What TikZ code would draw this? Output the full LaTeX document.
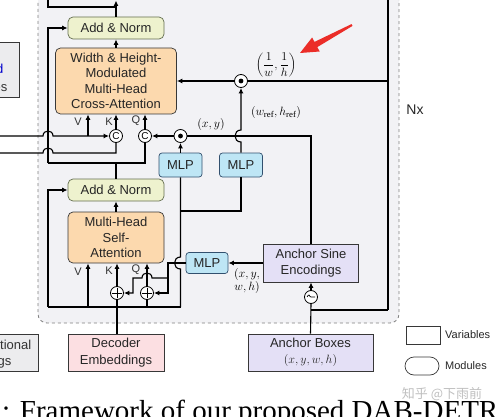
\documentclass[tikz,border=0pt]{standalone}
\usepackage{fontspec}
\setmainfont{Liberation Serif}
\setsansfont{Liberation Sans}
\newfontfamily\cjkfont{Noto Sans CJK SC}
\usetikzlibrary{arrows.meta}
\definecolor{panel}{RGB}{242,242,245}
\definecolor{anfill}{RGB}{238,242,206}
\definecolor{andraw}{RGB}{100,110,80}
\definecolor{attfill}{RGB}{252,217,174}
\definecolor{mlpfill}{RGB}{190,230,245}
\definecolor{mlpdraw}{RGB}{50,80,110}
\definecolor{lav}{RGB}{228,224,246}
\definecolor{pinkf}{RGB}{252,223,226}
\definecolor{greyf}{RGB}{236,236,238}
\definecolor{bord}{RGB}{55,55,55}
\definecolor{arrowred}{RGB}{235,45,40}
\tikzset{
 wire/.style={line width=1.1pt},
 arr/.style={wire, -{Latex[length=5.5pt,width=5pt]}},
 modbox/.style={draw=bord, line width=0.7pt, rounded corners=5pt, inner sep=0pt, align=center, font=\sffamily\fontsize{13}{15.5}\selectfont, text=black!85},
 varbox/.style={draw=bord, line width=0.7pt, inner sep=0pt, align=center, font=\sffamily\fontsize{13}{16.5}\selectfont, text=black!85},
 mlpbox/.style={modbox, fill=mlpfill, draw=mlpdraw, rounded corners=3pt},
 opc/.style={circle, draw=black, fill=white, line width=0.8pt, minimum size=13pt, inner sep=0pt, font=\sffamily\fontsize{10}{10}\selectfont},
 dotop/.style={opc, path picture={\fill[black] (path picture bounding box.center) circle (2.4pt);}},
 plusop/.style={opc, path picture={\draw[black, line width=0.7pt] (path picture bounding box.center) +(-5pt,0) -- +(5pt,0) (path picture bounding box.center) +(0,-5pt) -- +(0,5pt);}},
 sineop/.style={opc, path picture={\draw[black, line width=0.7pt] (path picture bounding box.center) +(-4pt,0) sin +(-2pt,2pt) cos +(0,0) sin +(2pt,-2pt) cos +(4pt,0);}},
 lab/.style={font=\sffamily\fontsize{11}{12}\selectfont, text=black!80, inner sep=0pt},
 mlab/.style={font=\fontsize{12.5}{14}\selectfont, inner sep=0pt},
}
\begin{document}
\begin{tikzpicture}[x=1pt,y=-1pt]
\useasboundingbox (0,0) rectangle (500,417);
\clip (0,0) rectangle (500,417);
% panel
\draw[dashed, draw=black!50, fill=panel, line width=0.8pt, rounded corners=9pt] (38,-30) rectangle (399,323);
% boxes
\node[modbox, fill=anfill, draw=andraw, minimum width=96pt, minimum height=22pt] (an1) at (116,28) {Add \& Norm};
\node[modbox, fill=attfill, minimum width=121pt, minimum height=66pt] (ca) at (116,81) {Width \& Height-\\Modulated\\Multi-Head\\Cross-Attention};
\node[modbox, fill=anfill, draw=andraw, minimum width=96pt, minimum height=22pt] (an2) at (116,190) {Add \& Norm};
\node[modbox, fill=attfill, minimum width=96pt, minimum height=51pt] (sa) at (116,237.5) {Multi-Head\\Self-\\Attention};
\node[mlpbox, minimum width=43pt, minimum height=24pt] (m1) at (180.5,165) {MLP};
\node[mlpbox, minimum width=43pt, minimum height=24pt] (m2) at (241,165) {MLP};
\node[mlpbox, minimum width=42pt, minimum height=21pt] (m3) at (207,263) {MLP};
\node[varbox, fill=lav, minimum width=95pt, minimum height=38pt] (ase) at (311,263) {Anchor Sine\\Encodings};
\node[varbox, fill=lav, minimum width=125pt, minimum height=37pt] (ab) at (310.5,352.5) {Anchor Boxes\\$(x,y,w,h)$};
\node[varbox, fill=pinkf, minimum width=96pt, minimum height=37pt] (de) at (116,352.5) {Decoder\\Embeddings};
\node[varbox, fill=greyf, minimum width=98pt, minimum height=37pt] (pe) at (-11,352.5) {};
\node[lab, font=\sffamily\fontsize{13}{13}\selectfont, anchor=east] (pe1) at (31.5,345) {Positional};
\node[lab, font=\sffamily\fontsize{13}{13}\selectfont, anchor=east] (pe2) at (11.5,362) {Encodings};
\node[varbox, fill=greyf, minimum width=79pt, minimum height=55pt] (fe) at (-20.5,69.5) {};
\node[lab, font=\sffamily\fontsize{13}{13}\selectfont, anchor=east, text=blue!80!black] (fe1) at (3.5,69) {Encoded};
\node[lab, font=\sffamily\fontsize{13}{13}\selectfont, anchor=east] (fe2) at (7.5,87) {Features};
% operators
\node[opc] (ck) at (116,136) {C};
\node[opc] (cq) at (145,136) {C};
\node[dotop] (d1) at (180.5,136) {};
\node[dotop] (d2) at (241,81) {};
\node[plusop] (p1) at (117,293) {};
\node[plusop] (p2) at (147,293) {};
\node[sineop] (sn) at (311,297) {};
% coordinates
\coordinate (topout) at (116,0.5);
\coordinate (rb) at (116,7); \coordinate (rl) at (48,7); \coordinate (rt) at (48,-3);
\coordinate (j48) at (48,163); \coordinate (j116) at (116,163); \coordinate (j145) at (145,163);
\coordinate (mem0) at (-5,136); \coordinate (mh1) at (43,136); \coordinate (mh2) at (53,136); \coordinate (vj) at (88,136);
\coordinate (pos0) at (-5,153); \coordinate (ph1) at (43,153); \coordinate (ph2) at (53,153); \coordinate (pk) at (116,153);
\coordinate (wa) at (241,142); \coordinate (wb) at (241,130);
\coordinate (rx) at (388,310); \coordinate (rtop) at (388,-3); \coordinate (rj) at (388,81); \coordinate (sj) at (311,310);
\coordinate (q1) at (168,263); \coordinate (q2) at (168,278); \coordinate (qh1) at (152,278); \coordinate (qh2) at (142,278); \coordinate (q3) at (133,278);
\coordinate (b48) at (48,307); \coordinate (b88) at (88,307); \coordinate (b147) at (147,307); \coordinate (b180) at (180.5,307);
\coordinate (h1) at (180.5,269); \coordinate (h2) at (180.5,257); \coordinate (k180) at (180.5,211); \coordinate (k241) at (241,211);
% wires upper
\draw[arr] (an1.north) -- (topout);
\draw[wire] (rb) -- (rl) -- (rt);
\draw[arr] (ca.north) -- (an1.south);
\draw[arr] (j48) |- (an1.west);
\draw[wire] (an2.north) -- (j116);
\draw[wire] (j48) -- (j145) -- (cq.south);
\draw[arr] (mem0) -- (mh1) .. controls (43,129.3) and (53,129.3) .. (mh2) -- (ck.west);
\draw[arr] (vj) -- (vj |- ca.south);
\draw[wire] (pos0) -- (ph1) .. controls (43,146.3) and (53,146.3) .. (ph2) -- (pk) -- (ck.south);
\draw[arr] (ck.north) -- (ck.north |- ca.south);
\draw[arr] (cq.north) -- (cq.north |- ca.south);
\draw[arr] (d1.west) -- (cq.east);
\draw[wire] (d1.east) -| (ase.north);
\draw[arr] (m1.north) -- (d1.south);
\draw[arr] (m2.north) -- (wa) .. controls (233,142) and (233,130) .. (wb) -- (d2.south);
\draw[arr] (d2.west) -- (ca.east);
\draw[wire] (rx) -- (rtop);
\draw[wire] (rj) -- (d2.east);
\draw[wire] (ab.north) -- (sn.south);
\draw[arr] (sn.north) -- (ase.south);
\draw[wire] (sj) -- (rx);
% wires lower
\draw[arr] (ase.west) -- (m3.east);
\draw[arr] (m3.west) -- (q1) |- (p2.east);
\draw[arr] (q2) -- (qh1) .. controls (152,271.3) and (142,271.3) .. (qh2) -- (q3) |- (p1.east);
\draw[wire] (p1.south) -- (p1.south |- de.north);
\draw[wire] (b48) -- (b180);
\draw[arr] (b48) |- (an2.west);
\draw[arr] (b88) -- (b88 |- sa.south);
\draw[wire] (p2.south) -- (b147);
\draw[wire] (b180) -- (h1) .. controls (172.5,269) and (172.5,257) .. (h2) -- (m1.south);
\draw[wire] (k180) -- (k241) -- (m2.south);
\draw[arr] (p1.north) -- (p1.north |- sa.south);
\draw[arr] (p2.north) -- (p2.north |- sa.south);
\draw[arr] (sa.north) -- (an2.south);
% labels
\node[lab] (lv1) at (78,122) {V};
\node[lab] (lk1) at (109,122) {K};
\node[lab] (lq1) at (136,121) {Q};
\node[lab] (lv2) at (78,272) {V};
\node[lab] (lk2) at (109,271) {K};
\node[lab] (lq2) at (136,270) {Q};
\node[mlab] (lxy) at (211,125) {$(x,y)$};
\node[mlab] (lwh) at (276,112) {$(w_{\mathrm{ref}},h_{\mathrm{ref}})$};
\node[mlab, font=\fontsize{11.5}{13}\selectfont] (linv) at (276,65) {$\left(\displaystyle\frac{1}{w},\frac{1}{h}\right)$};
\node[mlab, align=center, font=\fontsize{12}{13}\selectfont] (lxywh) at (247,281) {$(x,y,$\\$w,h)$};
\node[font=\sffamily\fontsize{14}{14}\selectfont, text=black!85] (nx) at (415,110) {Nx};
% legend
\node[draw=bord, line width=0.7pt, minimum width=34pt, minimum height=18pt, inner sep=0pt] (lgv) at (423,335) {};
\node[draw=bord, line width=0.7pt, minimum width=34pt, minimum height=18pt, inner sep=0pt, rounded corners=9pt] (lgm) at (422,366) {};
\node[lab, anchor=west, text=black!85] (lgvt) at (445,335) {Variables};
\node[lab, anchor=west, text=black!85] (lgmt) at (445,366) {Modules};
% red annotation arrow
\fill[arrowred] (352.5,25.9) -- (317.3,47.1) -- (319.7,51.5) -- (300,53) -- (312.1,37.5) -- (314.5,41.9) -- (351.5,24.1) -- cycle;
% watermark and caption
\node[font=\cjkfont\fontsize{13}{13}\selectfont, text=black!25] (wm) at (442,394) {知乎 @下雨前};
\node[anchor=base west, font=\fontsize{29}{30}\selectfont, inner sep=0pt] (cap) at (2,420) {: Framework of our proposed DAB-DETR};
\end{tikzpicture}
\end{document}
